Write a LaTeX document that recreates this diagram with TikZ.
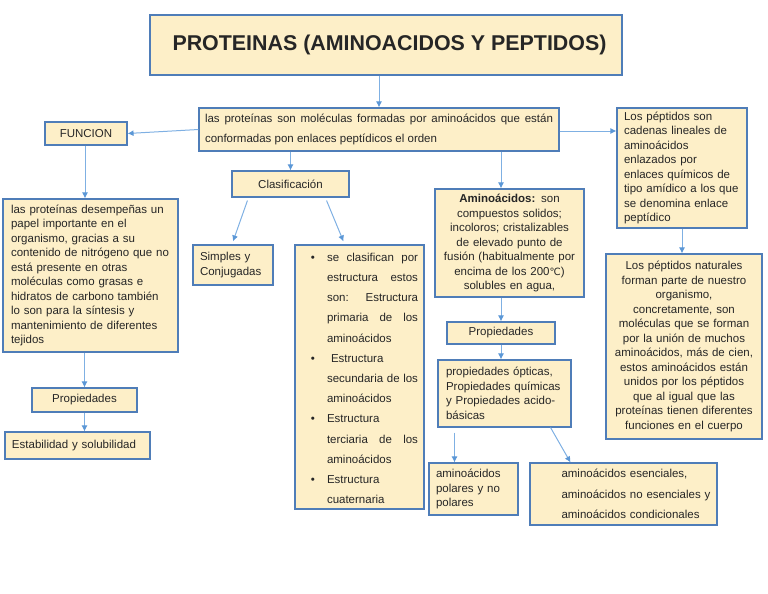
\documentclass[tikz,border=0pt]{standalone}
\usepackage{fontspec}
\setmainfont{Liberation Sans}
\newfontfamily\dejavu{DejaVu Sans}
\usepackage{enumitem}
\usetikzlibrary{calc}
\usetikzlibrary{arrows.meta}

\definecolor{boxfill}{HTML}{FDEFC8}
\definecolor{boxline}{HTML}{4F7DB8}
\definecolor{linkblue}{HTML}{7FB0E3}
\definecolor{tipblue}{HTML}{5B97D6}

\tikzset{
	box/.style={draw=boxline, fill=boxfill, line width=1.1pt, inner xsep=7pt, inner ysep=0pt,
		font=\fontsize{11.5}{14.5}\selectfont, text=black!85},
	link/.style={draw=linkblue, line width=1pt, -{Latex[length=6pt,width=6pt,color=tipblue]}},
}

\begin{document}
\begin{tikzpicture}[x=1pt, y=-1pt]
					\useasboundingbox (0,0) rectangle (768,594);

					% Title and the main sentence
					\node[box, minimum width=472pt, minimum height=60pt, font=\fontsize{21.4}{24}\selectfont\bfseries] (title) at (386,45) {\hspace*{7pt}PROTEINAS (AMINOACIDOS Y PEPTIDOS)};
					\node[box, minimum height=43pt, text width=348pt, inner xsep=6pt, align=justify, font=\fontsize{11.5}{20}\selectfont] (main) at (379,129.5)
						{las proteínas son moléculas formadas por aminoácidos que están\linebreak conformadas pon enlaces peptídicos el orden};

					% Left branch
					\node[box, minimum width=82pt, minimum height=23pt] (funcion) at (86,133.5) {FUNCION};
					\node[box, minimum height=153pt, text width=159pt, inner xsep=8pt, align=left] (funtext) at (90.5,275.5)
						{las proteínas desempeñas un\\ papel importante en el\\ organismo, gracias a su\\ contenido de nitrógeno que no\\ está presente en otras\\ moléculas como grasas e\\ hidratos de carbono también\\ lo son para la síntesis y\\ mantenimiento de diferentes\\ tejidos};
					\node[box, minimum width=105pt, minimum height=24pt] (propizq) at (84.5,400) {Propiedades};
					\node[box, minimum height=27pt, text width=131pt, align=left] (estab) at (77.5,445.5) {Estabilidad y solubilidad};

					% Clasificacion
					\node[box, minimum width=117pt, minimum height=26pt] (clasif) at (290.5,184) {Clasificación};
					\node[box, minimum height=40pt, text width=66pt, align=left] (simples) at (233,265) {Simples y\\ Conjugadas};
					\node[box, minimum height=264pt, text width=117pt, inner xsep=6pt, align=justify, font=\fontsize{11.5}{20.2}\selectfont] (estruct) at (359.5,377)
						{\vspace*{-9pt}\begin{itemize}[leftmargin=26pt, labelsep=12pt, itemsep=0pt, parsep=0pt, topsep=0pt, partopsep=0pt]
							\item se clasifican por\linebreak estructura estos\linebreak son: Estructura\linebreak primaria de los\linebreak aminoácidos
							\item \hspace*{4pt}Estructura\newline secundaria de los\linebreak aminoácidos
							\item Estructura\newline terciaria de los\linebreak aminoácidos
							\item Estructura\newline cuaternaria
						\end{itemize}};

					% Aminoacidos
					\node[box, minimum height=108pt, text width=135pt, align=center] (amino) at (509.5,243)
						{\textbf{Aminoácidos:} son\\ compuestos solidos;\\ incoloros; cristalizables\\ de elevado punto de\\ fusión (habitualmente por\\ encima de los 200{\dejavu\fontsize{10}{14.5}\selectfont ℃})\\ solubles en agua,};
					\node[box, minimum width=108pt, minimum height=22pt] (propmed) at (501,333) {Propiedades};
					\node[box, minimum height=67pt, text width=117pt, inner xsep=8pt, align=left] (opticas) at (504.5,393.5)
						{propiedades ópticas,\\ Propiedades químicas\\ y Propiedades acido-\\ básicas};
					\node[box, minimum height=52pt, text width=75pt, align=left] (polares) at (473.5,489) {aminoácidos\\ polares y no\\ polares};
					\node[box, minimum height=62pt, text width=180pt, inner xsep=3.5pt, align=left, font=\fontsize{11.5}{20.5}\selectfont] (esenc) at (623.5,494)
						{\hspace*{28pt}aminoácidos esenciales,\\ \hspace*{28pt}aminoácidos no esenciales y\\ \hspace*{28pt}aminoácidos condicionales};

					% Peptidos
					\node[box, minimum height=120pt, text width=116pt, align=left] (peptidos) at (682,168)
						{Los péptidos son\\ cadenas lineales de\\ aminoácidos\\ enlazados por\\ enlaces químicos de\\ tipo amídico a los que\\ se denomina enlace\\ peptídico};
					\node[box, minimum height=185pt, text width=144pt, inner xsep=6pt, align=center] (naturales) at (684,346.5)
						{Los péptidos naturales\\ forman parte de nuestro\\ organismo,\\ concretamente, son\\ moléculas que se forman\\ por la unión de muchos\\ aminoácidos, más de cien,\\ estos aminoácidos están\\ unidos por los péptidos\\ que al igual que las\\ proteínas tienen diferentes\\ funciones en el cuerpo};

					% Connectors
					\draw[link] (title.south -| main.north) -- (main.north);
					\draw[link] (main.west) -- (funcion.east);
					\draw[link] ([yshift=-1.5pt]main.east) -- ([yshift=-1.5pt]main.east -| peptidos.west);
					\draw[link] (main.south -| clasif.north) -- (clasif.north);
					\draw[link] (main.south -| propmed.north) -- (amino.north -| propmed.north);
					\draw[link] ([xshift=-1pt]funcion.south) -- ([xshift=-1pt]funtext.north -| funcion.south);
					\draw[link] ($(clasif.south west)+(16,3)$) -- ($(simples.north)+(0,-3)$);
					\draw[link] ($(clasif.south east)+(-23,3)$) -- ($(estruct.north)+(-16,-3)$);
					\draw[link] (funtext.south -| propizq.north) -- (propizq.north);
					\draw[link] (propizq.south) -- (estab.north -| propizq.south);
					\draw[link] (amino.south -| propmed.north) -- (propmed.north);
					\draw[link] (propmed.south) -- (opticas.north -| propmed.south);
					\draw[link] ($(opticas.south -| polares.north)+(-19,5)$) -- ($(polares.north)+(-19,0)$);
					\draw[link] ($(opticas.south east)+(-21,0)$) -- ($(esenc.north)+(-53,0)$);
					\draw[link] (peptidos.south) -- (naturales.north -| peptidos.south);
				\end{tikzpicture}
\end{document}
